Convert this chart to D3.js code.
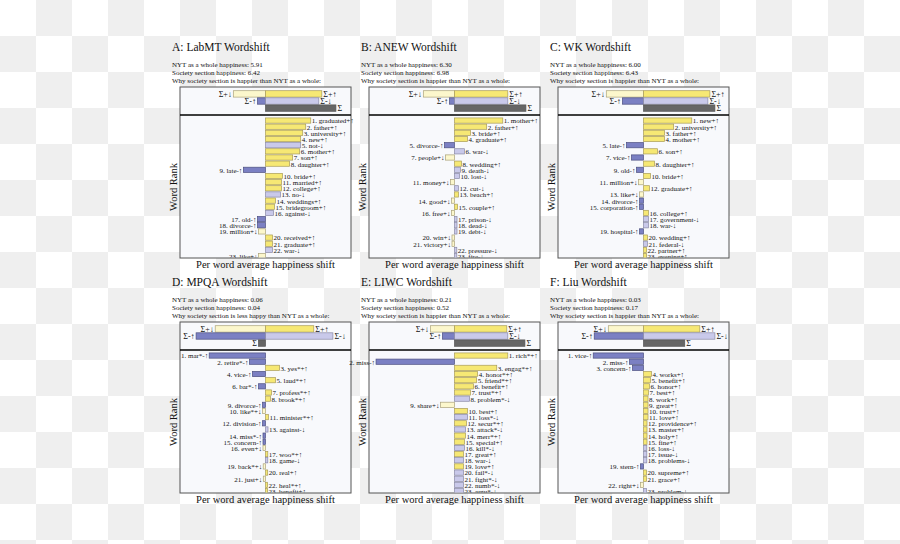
<!DOCTYPE html>
<html>
<head>
<meta charset="utf-8">
<script src="https://cdn.jsdelivr.net/npm/d3@7"></script>
<style>
body { margin: 0; background: #fff; }
svg text { font-family: "Liberation Serif", "DejaVu Serif", serif; fill: #111; }
</style>
</head>
<body>
<svg id="chart" width="900" height="544"></svg>
<script>
// panel titles and summary text
var titles = ["A: LabMT Wordshift", "B: ANEW Wordshift", "C: WK Wordshift",
              "D: MPQA Wordshift", "E: LIWC Wordshift", "F: Liu Wordshift"];
var nytScores = ["5.91", "6.30", "6.00", "0.06", "0.21", "0.03"];
var socScores = ["6.42", "6.98", "6.43", "0.04", "0.52", "0.17"];
var whyLines = ["happier", "happier", "happier", "less happy", "happier", "happier"];

// summary bars: [Σ+↓, Σ+↑, Σ-↑, Σ-↓, Σ]
var sumsA = [-32, 56, -8, 53, 70];
var sumsB = [-31, 53, -5, 53, 71];
var sumsC = [-37, 66, -21, 64, 71];
var sumsD = [-50, 48, -69, 67, -7];
var sumsE = [-24, 52, -12, 53, 70];
var sumsF = [-35, 56, -49, 71, 41];

var wordsA = ["graduated+↑", "father+↑", "university+↑", "new+↑", "not-↓", "mother+↑", "son+↑", "daughter+↑",
  "late-↑", "bride+↑", "married+↑", "college+↑", "no-↓", "weddings+↑", "bridegroom+↑", "against-↓",
  "old-↑", "divorce-↑", "million+↓", "received+↑", "graduate+↑", "war-↓", "like+↓"];
var valsA = [45, 40, 37, 35, 35, 34, 27, 24, -22, 17, 16, 16, 15, 10, 9, 8, -8, -8, -7, 7, 7, 7, -7];

var wordsB = ["mother+↑", "father+↑", "bride+↑", "graduate+↑", "divorce-↑", "war-↓", "people+↓", "wedding+↑",
  "death-↓", "lost-↓", "money+↓", "cut-↓", "beach+↑", "good+↓", "couple+↑", "free+↓", "prison-↓",
  "dead-↓", "debt-↓", "win+↓", "victory+↓", "pressure-↓", "fire-↓"];
var valsB = [48, 32, 16, 13, -10, 10, -9, 7, 6, 5, -4, 4, 4, -3, 3, -3, 2.5, 2.5, 2.5, -2.5, -2.5, 2.3, 2.3];

var wordsC = ["new+↑", "university+↑", "father+↑", "mother+↑", "late-↑", "son+↑", "vice-↑", "daughter+↑",
  "old-↑", "bride+↑", "million+↓", "graduate+↑", "like+↓", "divorce-↑", "corporation-↑", "college+↑",
  "government-↓", "war-↓", "hospital-↑", "wedding+↑", "federal-↓", "partner+↑", "evening+↑"];
var valsC = [48, 30, 21, 21, -17, 14, -12, 11, -7, 7, -5, 6, -4, -4, -4, 5, 5, 5, -4, 4, 4, 3, 3];

var wordsD = ["mar*-↑", "retire*-↑", "yes*+↑", "vice-↑", "laud*+↑", "bar*-↑", "profess*+↑", "brook*+↑",
  "divorce-↑", "like*+↓", "minister*+↑", "division-↑", "against-↓", "miss*-↑", "concern-↑", "even+↓",
  "woo*+↑", "game-↓", "back*+↓", "real+↑", "just+↓", "heal*+↑", "benefit+↑"];
var valsD = [-56, -16, 14, -13, 10, -7, 6, 5, -3, -3, 3, -3, 2.5, -2.5, -2.5, -2.5, 2.3, 2.3, -2.3, 2.2, -2.2, 2, 2];

var wordsE = ["rich*+↑", "miss-↑", "engag*+↑", "honor*+↑", "friend*+↑", "benefit+↑", "trust*+↑", "problem*-↓",
  "share+↓", "best+↑", "loss*-↓", "secur*+↑", "attack*-↓", "merr*+↑", "special+↑", "kill*-↓", "great+↑",
  "war-↓", "love+↑", "fail*-↓", "fight*-↓", "numb*-↓", "argu*-↓"];
var valsE = [53, -78, 42, 23, 22, 19, 16, 15, -14, 13, 13, 12, 11, 11, 10, 10, 9, 9, 9, 9, 9, 9, 9];

var wordsF = ["vice-↑", "miss-↑", "concern-↑", "works+↑", "benefit+↑", "honor+↑", "best+↑", "work+↑",
  "great+↑", "trust+↑", "love+↑", "providence+↑", "master+↑", "holy+↑", "fine+↑", "loss-↓", "issue-↓",
  "problems-↓", "stern-↑", "supreme+↑", "grace+↑", "right+↓", "problem-↓"];
var valsF = [-50, -14, -11, 8, 7, 6, 5, 4.5, 4.5, 4.5, 4.5, 3.5, 3.5, 3.5, 3.5, 3.3, 3.3, 3.3, -3, 3, 3, -3, 3];

var sums = [sumsA, sumsB, sumsC, sumsD, sumsE, sumsF];
var words = [wordsA, wordsB, wordsC, wordsD, wordsE, wordsF];
var vals = [valsA, valsB, valsC, valsD, valsE, valsF];

var colors = {
  "+↑": {fill: "#f6e874", stroke: "#a89c5a"},
  "-↓": {fill: "#c9c9ea", stroke: "#8a8aa6"},
  "-↑": {fill: "#7b80c3", stroke: "#4d5080"},
  "+↓": {fill: "#fcf7cc", stroke: "#aaa27a"}
};

var svg = d3.select("#chart");

// checkerboard background
var sq = 36;
for (var i = 0; i < Math.ceil(900 / sq); i++) {
  for (var j = 0; j < Math.ceil(544 / sq); j++) {
    svg.append("rect").attr("x", i * sq).attr("y", j * sq).attr("width", sq).attr("height", sq)
      .attr("fill", (i + j) % 2 == 0 ? "#ffffff" : "#efefef");
  }
}

var boxLeft = [180, 369, 558];
var boxW = 171;
var rowTop = [87, 322];
var boxH = 171;

function kind(w) { return w.slice(-2); }

function drawPanel(p) {
  var col = p % 3, row = Math.floor(p / 3);
  var x0 = boxLeft[col], y0 = rowTop[row];
  var g = svg.append("g");

  g.append("text").attr("x", x0 - 8).attr("y", y0 - 36).style("font-size", "11.5px").text(titles[p]);
  var info = ["NYT as a whole happiness: " + nytScores[p],
              "Society section happiness: " + socScores[p],
              "Why society section is " + whyLines[p] + " than NYT as a whole:"];
  info.forEach(function (t, k) {
    g.append("text").attr("x", x0 - 8).attr("y", y0 - 20 + k * 8).style("font-size", "7px").text(t);
  });

  g.append("rect").attr("x", x0).attr("y", y0).attr("width", boxW).attr("height", boxH)
    .attr("fill", "#f8f9fc").attr("stroke", "#555").attr("stroke-width", 1);

  var x = d3.scaleLinear().domain([-85, 85]).range([x0, x0 + boxW]);
  var zero = x(0);

  // summary section
  var s = sums[p];
  var sumRows = [
    {v: s[0], k: "+↓", lab: "Σ+↓", y: 0}, {v: s[1], k: "+↑", lab: "Σ+↑", y: 0},
    {v: s[2], k: "-↑", lab: "Σ-↑", y: 1}, {v: s[3], k: "-↓", lab: "Σ-↓", y: 1},
    {v: s[4], k: "S", lab: "Σ", y: 2}
  ];
  var sy = d3.scaleBand().domain([0, 1, 2]).range([y0 + 3, y0 + 25]).padding(0.1);
  sumRows.forEach(function (d) {
    var c = d.k == "S" ? {fill: "#666", stroke: "#555"} : colors[d.k];
    g.append("rect").attr("x", Math.min(x(d.v), zero)).attr("y", sy(d.y))
      .attr("width", Math.abs(x(d.v) - zero)).attr("height", sy.bandwidth())
      .attr("fill", c.fill).attr("stroke", c.stroke).attr("stroke-width", 0.7);
    g.append("text").attr("x", d.v >= 0 ? x(d.v) + 1.5 : x(d.v) - 1.5)
      .attr("y", sy(d.y) + sy.bandwidth() - 0.3)
      .attr("text-anchor", d.v >= 0 ? "start" : "end").style("font-size", "8px").text(d.lab);
  });
  g.append("line").attr("x1", x0).attr("x2", x0 + boxW).attr("y1", y0 + 28).attr("y2", y0 + 28)
    .attr("stroke", "#000").attr("stroke-width", 1.6);

  // words section
  var clipId = "clip" + p;
  g.append("clipPath").attr("id", clipId).append("rect")
    .attr("x", x0 - 100).attr("y", y0 + 29).attr("width", boxW + 200).attr("height", boxH - 29.5);
  var wg = g.append("g").attr("clip-path", "url(#" + clipId + ")");
  var idx = d3.range(words[p].length);
  var y = d3.scaleBand().domain(idx).range([y0 + 30, y0 + 30 + 6.2 * idx.length]).padding(0.15);
  idx.forEach(function (i) {
    var v = vals[p][i], c = colors[kind(words[p][i])];
    wg.append("rect").attr("x", Math.min(x(v), zero)).attr("y", y(i))
      .attr("width", Math.abs(x(v) - zero)).attr("height", y.bandwidth())
      .attr("fill", c.fill).attr("stroke", c.stroke).attr("stroke-width", 0.7);
    wg.append("text").attr("x", v >= 0 ? x(v) + 1 : x(v) - 1).attr("y", y(i) + y.bandwidth() + 0.3)
      .attr("text-anchor", v >= 0 ? "start" : "end").style("font-size", "7px")
      .text((i + 1) + ". " + words[p][i]);
  });

  g.append("text").attr("transform", "translate(" + (x0 - 3) + "," + (y0 + 100) + ")rotate(-90)")
    .attr("text-anchor", "middle").style("font-size", "10.5px").text("Word Rank");
  g.append("text").attr("x", x0 + boxW / 2).attr("y", y0 + boxH + 10)
    .attr("text-anchor", "middle").style("font-size", "10.5px").text("Per word average happiness shift");
}

for (var p = 0; p < 6; p++) drawPanel(p);
</script>
</body>
</html>
